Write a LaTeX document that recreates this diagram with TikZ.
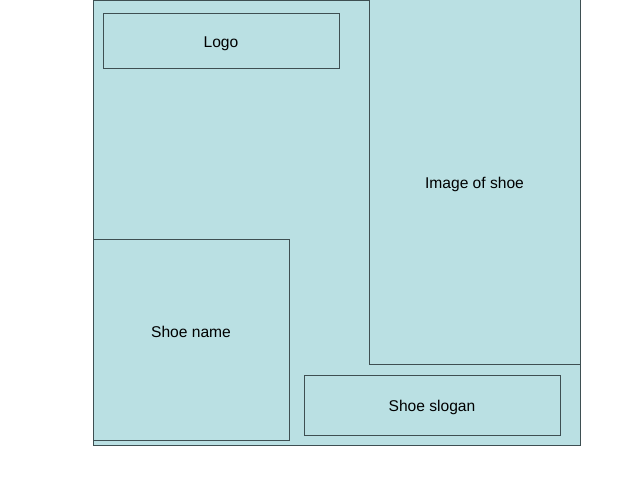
\documentclass[tikz,border=0pt]{standalone}
\usepackage{fontspec}
\setmainfont{Liberation Sans}
\definecolor{boxfill}{HTML}{BAE0E3}
\definecolor{boxline}{HTML}{3E4F52}
\begin{document}
\begin{tikzpicture}[x=1pt,y=-1pt,
  panel/.style={draw=boxline,line width=0.9pt,fill=boxfill},
  lbl/.style={font=\fontsize{15.6}{18}\selectfont,text=black}]
\useasboundingbox (0,0) rectangle (638,478);
\draw[panel] (93,0) rectangle (580,445);
\draw[panel] (103,13) rectangle (339,68);
\node[lbl] (logo) at (221,43.5) {Logo};
\draw[panel] (369,-1) rectangle (580,364);
\node[lbl] (img) at (474.5,184) {Image of shoe};
\draw[panel] (93,239) rectangle (289,440);
\node[lbl] (name) at (191,332) {Shoe name};
\draw[panel] (304,375) rectangle (560,435);
\node[lbl] (slogan) at (432,407) {Shoe slogan};
\end{tikzpicture}
\end{document}
